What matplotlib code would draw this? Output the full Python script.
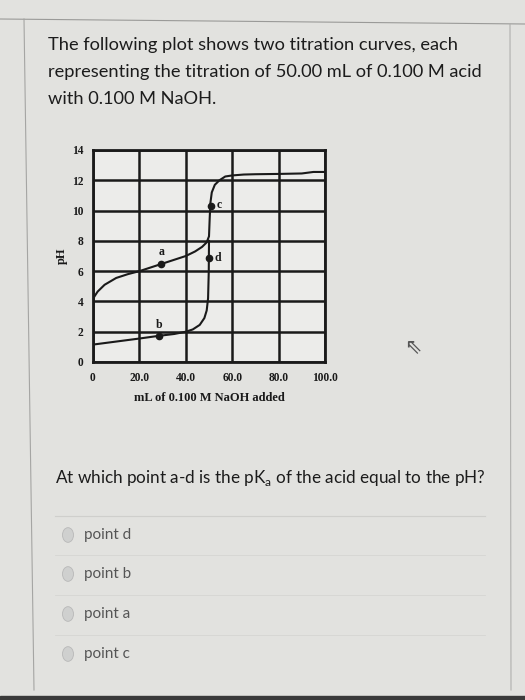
import matplotlib
matplotlib.use("Agg")
import matplotlib.pyplot as plt
from matplotlib.lines import Line2D
from matplotlib.patches import Circle, Rectangle

# ---- data ----
weak_x = [0, 0.5, 2, 5, 10, 15, 20, 25, 30, 35, 40, 44, 47, 49, 50.0, 50.3, 50.6, 51.2, 52.5, 54.5, 57, 60, 65, 70, 80, 90, 95, 100]
weak_ph = [4.0, 4.3, 4.65, 5.1, 5.55, 5.8, 6.0, 6.25, 6.5, 6.75, 7.0, 7.3, 7.6, 7.9, 8.3, 9.5, 10.5, 11.2, 11.7, 12.0, 12.25, 12.32, 12.38, 12.4, 12.42, 12.45, 12.55, 12.55]
strong_x = [0, 10, 20, 28, 35, 40, 43, 46, 48, 49, 49.6, 49.9, 50.0]
strong_ph = [1.15, 1.35, 1.55, 1.72, 1.85, 2.0, 2.15, 2.45, 2.9, 3.4, 4.2, 6.0, 8.0]
point_labels = ["a", "b", "c", "d"]
point_x = [29.5, 28.5, 51.0, 50.0]
point_ph = [6.5, 1.72, 10.3, 6.85]
x_ticks = [0, 20, 40, 60, 80, 100]
x_tick_labels = ["0", "20.0", "40.0", "60.0", "80.0", "100.0"]
y_ticks = [0, 2, 4, 6, 8, 10, 12, 14]
y_tick_labels = ["0", "2", "4", "6", "8", "10", "12", "14"]
options = ["point d", "point b", "point a", "point c"]

W, H = 525, 700
fig = plt.figure(figsize=(W / 100, H / 100), dpi=100)
fig.patch.set_facecolor("#e2e2df")

def fx(x):
    return x / W

def fy(y):
    return 1 - y / H

# page decorations
fig.add_artist(Line2D([fx(0), fx(525)], [fy(19), fy(24)], color="#9a9a98", lw=0.8))
fig.add_artist(Line2D([fx(24), fx(34)], [fy(19), fy(690)], color="#a5a5a3", lw=0.8))
fig.add_artist(Line2D([fx(510), fx(511)], [fy(24), fy(690)], color="#b0b0ae", lw=0.8))
fig.add_artist(Line2D([fx(55), fx(485)], [fy(516), fy(516)], color="#cfcfcc", lw=0.8))
for yy in [555, 595, 635]:
    fig.add_artist(Line2D([fx(55), fx(485)], [fy(yy), fy(yy)], color="#d6d6d3", lw=0.6))
fig.add_artist(Rectangle((0, 0), 1, 4 / H, transform=fig.transFigure, color="#3a3a3a"))

txt_kw = dict(family=["Lato", "DejaVu Sans"], color="#1c1c1c", va="center", ha="left")
fig.text(fx(48), fy(45), "The following plot shows two titration curves, each", fontsize=13.15, **txt_kw)
fig.text(fx(48), fy(72), "representing the titration of 50.00 mL of 0.100 M acid", fontsize=13.15, **txt_kw)
fig.text(fx(48), fy(99), "with 0.100 M NaOH.", fontsize=13.15, **txt_kw)
fig.text(fx(55), fy(478), r"At which point a-d is the pK$_\mathregular{a}$ of the acid equal to the pH?",
         fontsize=12.3, **txt_kw)

opt_y = [535, 574, 614, 654]
for lab, yy in zip(options, opt_y):
    fig.add_artist(Circle((fx(68), fy(yy)), 5.5 / W, transform=fig.transFigure,
                          facecolor="#cfd0cf", edgecolor="#b8b8b8", lw=0.6))
    fig.text(fx(84), fy(yy), lab, fontsize=11, family=["Lato", "DejaVu Sans"],
             color="#555555", va="center", ha="left")

# cursor glyph
fig.text(fx(413), fy(346), "\u21d6", fontsize=15, color="#555555", ha="center", va="center",
         family=["DejaVu Sans"])

# ---- chart ----
ax = fig.add_axes([fx(93), fy(362), (325 - 93) / W, (362 - 150) / H])
ax.set_facecolor("#ececea")
ax.set_xlim(0, 100)
ax.set_ylim(0, 14)
ax.set_xticks(x_ticks)
ax.set_xticklabels(x_tick_labels)
ax.set_yticks(y_ticks)
ax.set_yticklabels(y_tick_labels)
ax.grid(True, color="#1a1a1a", lw=1.8)
ax.set_axisbelow(True)
for s in ax.spines.values():
    s.set_linewidth(2.0)
    s.set_color("#1a1a1a")
ax.tick_params(length=0, pad=7, labelsize=8.3, colors="#1a1a1a")
for t in ax.get_xticklabels() + ax.get_yticklabels():
    t.set_family(["Liberation Serif", "DejaVu Serif"])
    t.set_fontweight("bold")

ax.plot(weak_x, weak_ph, color="#1a1a1a", lw=1.5)
ax.plot(strong_x, strong_ph, color="#1a1a1a", lw=1.5)
ax.plot(point_x, point_ph, "o", color="#1a1a1a", ms=4.5)
offsets = {"a": (0, 0.75, "center"), "b": (0, 0.75, "center"), "c": (2.5, 0.05, "left"), "d": (2.5, 0.05, "left")}
for lab, px_, py_ in zip(point_labels, point_x, point_ph):
    dx, dy, ha = offsets[lab]
    ax.text(px_ + dx, py_ + dy, lab, fontsize=8.5, family=["Liberation Serif", "DejaVu Serif"],
            fontweight="bold", ha=ha, va="center", color="#1a1a1a")

ax.set_xlabel("mL of 0.100 M NaOH added", fontsize=9, fontweight="bold",
              family=["Liberation Serif", "DejaVu Serif"], labelpad=6, color="#1a1a1a")
ax.set_ylabel("pH", fontsize=9, fontweight="bold",
              family=["Liberation Serif", "DejaVu Serif"], labelpad=3, color="#1a1a1a")

fig.savefig("out.png", dpi=100, facecolor=fig.get_facecolor())
